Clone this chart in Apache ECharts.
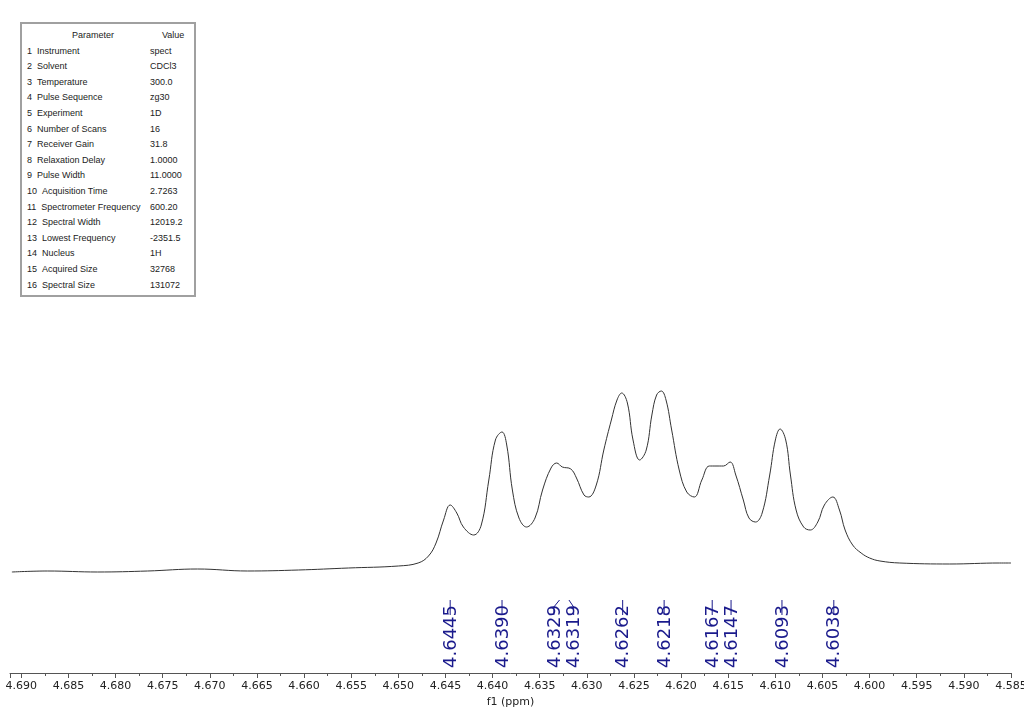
<!DOCTYPE html>
<html>
<head>
<meta charset="utf-8">
<script src="https://cdn.jsdelivr.net/npm/echarts@6/dist/echarts.min.js"></script>
<style>
  html, body { margin: 0; padding: 0; background: #fff; overflow: hidden; }
  #chart { width: 1024px; height: 717px; }
  #params {
    position: absolute; left: 20px; top: 22px; width: 172px; height: 271px;
    border: 2px solid #a0a0a0; background: #fff;
    font-family: "Liberation Sans", Arial, sans-serif; font-size: 9px; color: #222;
  }
  #params table { border-collapse: collapse; margin: 4px 0 0 5px; table-layout: fixed; }
  #params td { padding: 0; height: 15.6px; line-height: 15.6px; white-space: nowrap; }
  #params td.n { width: 121px; }
  #params td.v { width: 42px; padding-left: 2px; }
</style>
</head>
<body>
<div id="chart"></div>
<div id="params"></div>
<script>
// acquisition parameters
const paramNames = ['Instrument', 'Solvent', 'Temperature', 'Pulse Sequence', 'Experiment',
  'Number of Scans', 'Receiver Gain', 'Relaxation Delay', 'Pulse Width', 'Acquisition Time',
  'Spectrometer Frequency', 'Spectral Width', 'Lowest Frequency', 'Nucleus', 'Acquired Size', 'Spectral Size'];
const paramValues = ['spect', 'CDCl3', '300.0', 'zg30', '1D', '16', '31.8', '1.0000', '11.0000',
  '2.7263', '600.20', '12019.2', '-2351.5', '1H', '32768', '131072'];

// spectrum (ppm, intensity)
const shifts = [4.6910, 4.6872, 4.6819, 4.6766, 4.6713, 4.6660, 4.6606, 4.6553, 4.6500, 4.6479,
  4.6468, 4.6460, 4.6452, 4.6445, 4.6438, 4.6431, 4.6420, 4.6412, 4.6404, 4.6397,
  4.6390, 4.6385, 4.6379, 4.6372, 4.6364, 4.6355, 4.6347, 4.6338, 4.6332, 4.6326,
  4.6317, 4.6311, 4.6303, 4.6298, 4.6290, 4.6282, 4.6274, 4.6268, 4.6263, 4.6257,
  4.6251, 4.6244, 4.6237, 4.6231, 4.6226, 4.6221, 4.6216, 4.6210, 4.6202, 4.6194,
  4.6186, 4.6178, 4.6170, 4.6163, 4.6155, 4.6148, 4.6142, 4.6134, 4.6128, 4.6121,
  4.6114, 4.6106, 4.6100, 4.6095, 4.6089, 4.6084, 4.6078, 4.6070, 4.6063, 4.6055,
  4.6048, 4.6039, 4.6032, 4.6026, 4.6018, 4.6009, 4.6000, 4.5989, 4.5968, 4.5915,
  4.5862, 4.5850];
const intensity = [101, 102, 101, 102, 104, 102, 103, 105, 107, 110,
  117, 130, 153, 168, 160, 146, 138, 148, 193, 233,
  241, 228, 183, 155, 146, 155, 183, 205, 210, 206,
  204, 195, 178, 176, 188, 223, 253, 273, 280, 270,
  233, 213, 223, 258, 278, 282, 273, 243, 203, 181,
  176, 193, 207, 207, 207, 211, 198, 173, 155, 151,
  160, 198, 233, 244, 233, 198, 163, 146, 143, 151,
  168, 176, 163, 143, 128, 120, 115, 112, 110, 109,
  110, 110];

// peak picks
const peakShifts = [4.6445, 4.6390, 4.6329, 4.6319, 4.6262, 4.6218, 4.6167, 4.6147, 4.6093, 4.6038];
const labelShifts = [4.6445, 4.6390, 4.6335, 4.6314, 4.6262, 4.6218, 4.6167, 4.6147, 4.6093, 4.6038];
const peakLabels = ['4.6445', '4.6390', '4.6329', '4.6319', '4.6262', '4.6218', '4.6167', '4.6147', '4.6093', '4.6038'];

let html = '<table><tr><td class="n" style="padding-left:45px;width:76px">Parameter</td><td class="v" style="padding-left:14px;width:30px">Value</td></tr>';
paramNames.forEach((n, i) => {
  html += '<tr><td class="n">' + (i + 1) + '&nbsp;&nbsp;' + n + '</td><td class="v">' + paramValues[i] + '</td></tr>';
});
document.getElementById('params').innerHTML = html + '</table>';

const chart = echarts.init(document.getElementById('chart'));
chart.setOption({
  animation: false,
  grid: { left: 10, right: 13, top: 330, bottom: 44, containLabel: false, outerBoundsMode: 'none' },
  xAxis: {
    type: 'value', inverse: true, min: 4.5850, max: 4.6912, interval: 0.005,
    name: 'f1 (ppm)', nameLocation: 'middle', nameGap: 24,
    nameTextStyle: { fontFamily: 'DejaVu Sans', fontSize: 11, color: '#222' },
    axisLine: { lineStyle: { color: '#555' } },
    axisTick: { length: 5, lineStyle: { color: '#555' } },
    minorTick: { show: true, splitNumber: 2, length: 3, lineStyle: { color: '#555' } },
    axisLabel: { fontFamily: 'DejaVu Sans', fontSize: 11, color: '#222', margin: 8,
      formatter: v => v.toFixed(3), showMinLabel: true, hideOverlap: false },
    splitLine: { show: false }
  },
  yAxis: { type: 'value', min: 0, max: 343, show: false },
  series: [
    {
      type: 'line', smooth: 0.4, symbol: 'none',
      lineStyle: { color: '#333', width: 1 },
      data: shifts.map((s, i) => [s, intensity[i]])
    },
    {
      type: 'custom',
      data: peakShifts.map((s, i) => [s, labelShifts[i], i]),
      renderItem: (params, api) => {
        const i = api.value(2);
        const pk = api.coord([api.value(0), 73]);
        const lb = api.coord([api.value(1), 58]);
        const lb2 = api.coord([api.value(1), 66]);
        const base = api.coord([api.value(1), 5]);
        return {
          type: 'group',
          children: [
            { type: 'polyline', shape: { points: [[lb[0], lb[1]], [lb2[0], lb2[1]], [pk[0], pk[1]]] },
              style: { stroke: '#1a1a8c', lineWidth: 1, fill: null } },
            { type: 'text', x: base[0] + 1, y: base[1], rotation: Math.PI / 2,
              style: { text: peakLabels[i], fill: '#1a1a8c', fontFamily: 'DejaVu Sans',
                fontSize: 18, align: 'left', verticalAlign: 'middle' } }
          ]
        };
      }
    }
  ]
});
</script>
</body>
</html>
